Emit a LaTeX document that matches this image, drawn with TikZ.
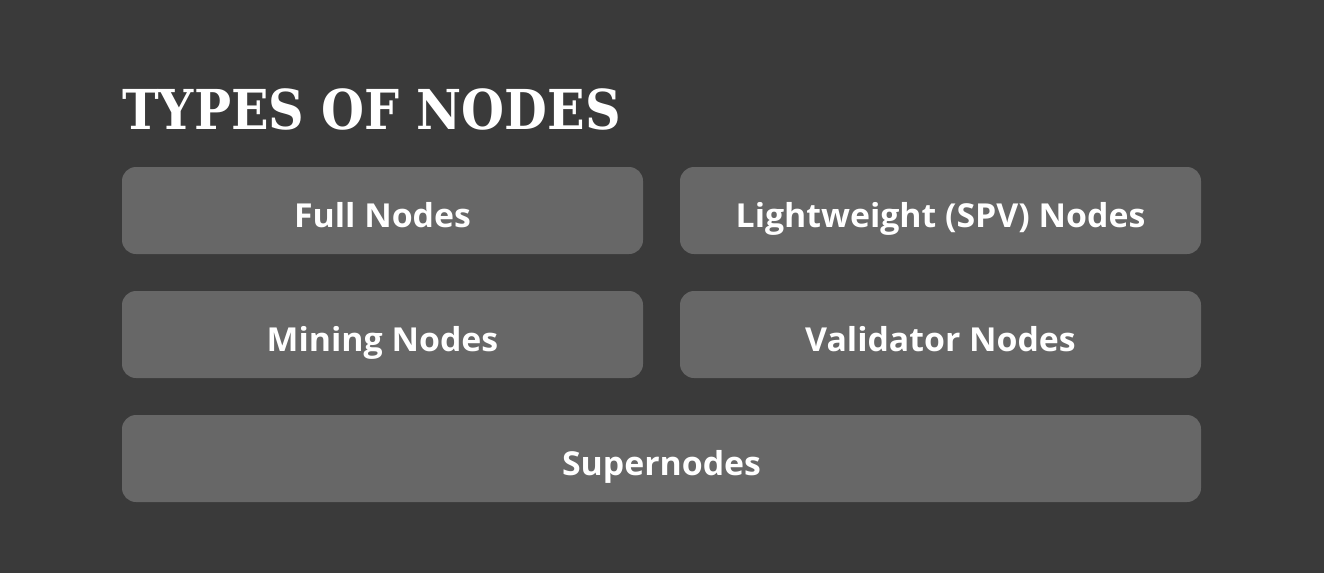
\documentclass[tikz,border=0pt]{standalone}
\usepackage{fontspec}
\setmainfont{Open Sans}
\newfontfamily\titlefont{DejaVu Serif}
\definecolor{bgc}{HTML}{3A3A3A}
\definecolor{boxc}{HTML}{676767}
\begin{document}
\begin{tikzpicture}[x=1pt,y=-1pt,
  typebox/.style={fill=boxc,rounded corners=14pt,draw=none},
  boxlabel/.style={text=white,font=\bfseries\fontsize{33}{37}\selectfont,anchor=base,inner sep=0pt,xscale=1.025},
  titlelabel/.style={text=white,font=\titlefont\bfseries\fontsize{55}{60}\selectfont,anchor=base west,inner sep=0pt,xscale=0.897}]
\fill[bgc] (0,0) rectangle (1324,573);
\useasboundingbox (0,0) rectangle (1324,573);
\node[titlelabel] (title) at (122,129) {TYPES OF NODES};
\path[typebox] (122,167) rectangle (643,254);
\path[typebox] (680,167) rectangle (1201,254);
\path[typebox] (122,291) rectangle (643,378);
\path[typebox] (680,291) rectangle (1201,378);
\path[typebox] (122,415) rectangle (1201,502);
\node[boxlabel] (full) at (382.5,227) {Full Nodes};
\node[boxlabel] (light) at (940.5,227) {Lightweight (SPV) Nodes};
\node[boxlabel] (mining) at (382.5,351) {Mining Nodes};
\node[boxlabel] (valid) at (940.5,351) {Validator Nodes};
\node[boxlabel] (super) at (661.5,475) {Supernodes};
\end{tikzpicture}
\end{document}
